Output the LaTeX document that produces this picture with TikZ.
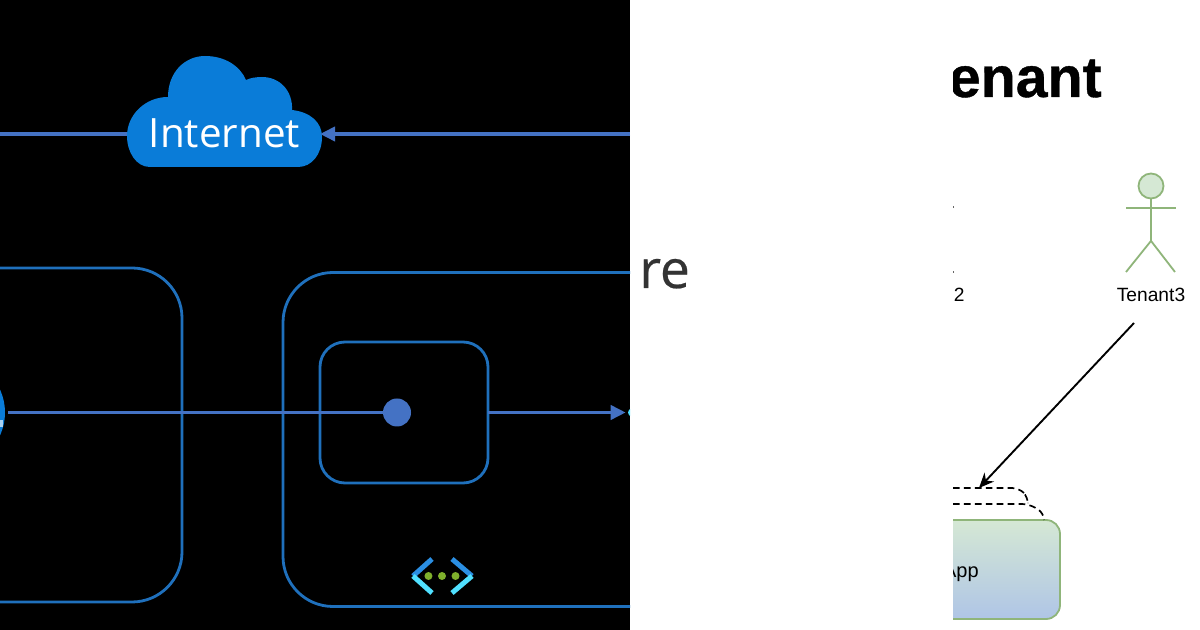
\documentclass[tikz,border=0pt]{standalone}
\usepackage{fontspec}
\usepackage{tikz}
\usetikzlibrary{positioning,arrows.meta}
\setmainfont{Liberation Sans}
\newfontfamily\slidefont[FakeBold=0.4]{Open Sans}
\newfontfamily\cloudfont{Open Sans}
\newfontfamily\titlefont[FakeBold=0.7]{Liberation Sans Bold}
\pgfmathsetmacro{\pixlen}{0.75}
\definecolor{cloudblue}{HTML}{0A7CD8}
\definecolor{wireblue}{HTML}{4472C4}
\definecolor{boxblue}{HTML}{1F70BC}
\definecolor{iconblue}{HTML}{2B8FE3}
\definecolor{iconcyan}{HTML}{50E0FF}
\definecolor{icongreen}{HTML}{7FB02C}
\definecolor{actorgreen}{HTML}{8FB57A}
\definecolor{actorfill}{HTML}{D5E8D4}
\definecolor{appblue}{HTML}{AFC5E6}
\tikzset{
  wire/.style={draw=wireblue, line width=3.6*\pixlen},
  wirearrow/.style={wire, -{Triangle[length=15*\pixlen pt, width=14*\pixlen pt]}},
  panelbox/.style={draw=boxblue, line width=2.8*\pixlen, rounded corners=50*\pixlen,
    minimum width=500*\pixlen pt, minimum height=334*\pixlen pt, outer sep=0},
  subnetbox/.style={draw=boxblue, line width=2.8*\pixlen, rounded corners=25*\pixlen,
    minimum width=168*\pixlen pt, minimum height=141*\pixlen pt, outer sep=0},
  chevup/.style={draw=iconblue, line width=5*\pixlen},
  chevdown/.style={draw=iconcyan, line width=5*\pixlen},
  icondot/.style={circle, fill=icongreen, minimum size=8*\pixlen pt, inner sep=0},
  actorline/.style={draw=actorgreen, line width=1.8*\pixlen},
  carddash/.style={dash pattern=on 5pt off 3.2pt, line width=1.7*\pixlen, rounded corners=7*\pixlen},
}
\begin{document}
\begin{tikzpicture}[x=0.75pt, y=-0.75pt]
\useasboundingbox (0,0) rectangle (1200,630);
\fill[white] (0,0) rectangle (1200,630);
% dark slide on the left
\begin{scope}
    \clip (0,0) rectangle (630,630);
    \fill[black] (0,0) rectangle (630,630);
    % cloud
    \fill[cloudblue] (150,167) .. controls (136,167) and (127,152) .. (127,136)
        .. controls (127,115) and (145,97) .. (168,97)
        .. controls (168,72) and (185,56) .. (205,56)
        .. controls (225,56) and (240,66) .. (246,80)
        .. controls (250,78) and (256,77) .. (262,77)
        .. controls (280,77) and (293,91) .. (292,110)
        .. controls (310,112) and (322,122) .. (322,137)
        .. controls (322,154) and (312,167) .. (298,167) -- cycle;
    \node[text=white, font=\cloudfont\fontsize{30.3}{30}\selectfont, inner sep=0] (inet_label) at (224.5,133) {Internet};
    % define vertices
    \coordinate (inet_west) at (127,134);
    \coordinate (inet_east) at (320,134);
    \coordinate (wire_left) at (0,134);
    \coordinate (wire_right) at (630,134);
    \draw[wire] (wire_left) -- (inet_west);
    \draw[wirearrow] (wire_right) -- (inet_east);
    % boxes
    \node[panelbox, anchor=east] (left_panel) at (182,435) {};
    \node[panelbox, anchor=west] (right_panel) at (283,439.5) {};
    \node[subnetbox] (subnet_box) at (404,412.5) {};
    % endpoints
    \node[circle, fill=cloudblue, minimum size=110*\pixlen pt, inner sep=0] (left_ep) at (-50,412.5) {};
    \fill[white!65!cloudblue] (-4,420) rectangle (3,427);
    \coordinate[right=3*\pixlen pt of left_ep.east] (wire_start);
    \node[circle, fill=wireblue, minimum size=28*\pixlen pt, inner sep=0] (subnet_dot) at (397,412.5) {};
    \node[circle, fill=iconcyan, minimum size=8*\pixlen pt, inner sep=0] (right_ep) at (632,412.5) {};
    \draw[wire] (wire_start) -- (subnet_dot);
    \draw[wirearrow, shorten >=2*\pixlen pt] (subnet_box.east) -- (right_ep.west);
    % network icon
    \node[icondot] (net_dot_mid) at (442,576) {};
    \node[icondot, left=5*\pixlen pt of net_dot_mid] (net_dot_l) {};
    \node[icondot, right=5*\pixlen pt of net_dot_mid] (net_dot_r) {};
    \draw[chevup] (432,559) -- (413,576);
    \draw[chevdown] (413,576) -- (432,593);
    \draw[chevup] (452,559) -- (472,576);
    \draw[chevdown] (472,576) -- (452,593);
\end{scope}
% slide text on the white side
\node[anchor=base west, inner sep=0, text=black!80, font=\slidefont\fontsize{40}{40}\selectfont] (slide_word) at (639,288) {re};
% cut-off drawing on the right
\begin{scope}
    \clip (953,0) rectangle (1200,630);
    \node[anchor=base east, inner sep=0, font=\titlefont\fontsize{43}{43}\selectfont] (title_word) at (1102,97) {enant};
    % tenant 2 leftovers
    \coordinate (arm_two) at (954,207);
    \coordinate (leg_two) at (954,272);
    \draw[black!60, line width=1.2*\pixlen] (arm_two) -- ++(-3,0);
    \draw[black!60, line width=1.2*\pixlen] (leg_two) -- ++(-3,0);
    \node[anchor=base west, inner sep=0, font=\fontsize{14.4}{14.4}\selectfont] (two_label) at (953.5,302) {2};
    % tenant 3
    \node[circle, actorline, fill=actorfill, minimum size=25*\pixlen pt, inner sep=0] (tenant_head) at (1151,186) {};
    \coordinate[below=41.5*\pixlen pt of tenant_head.south] (tenant_hip);
    \coordinate[below=8.5*\pixlen pt of tenant_head.south] (tenant_neck);
    \coordinate[left=25*\pixlen pt of tenant_neck] (tenant_arm_l);
    \coordinate[right=25*\pixlen pt of tenant_neck] (tenant_arm_r);
    \coordinate (tenant_foot_l) at (1126,272);
    \coordinate (tenant_foot_r) at (1175,272);
    \draw[actorline] (tenant_head.south) -- (tenant_hip);
    \draw[actorline] (tenant_arm_l) -- (tenant_arm_r);
    \draw[actorline] (tenant_foot_l) -- (tenant_hip) -- (tenant_foot_r);
    \node[inner sep=0, font=\fontsize{14.4}{14.4}\selectfont, anchor=base] (tenant_label) at (1151,302) {Tenant3};
    % app card and the two behind it
    \node[draw=actorgreen, line width=1.8*\pixlen, rounded corners=14*\pixlen, top color=actorfill, bottom color=appblue,
        minimum width=300*\pixlen pt, minimum height=99*\pixlen pt, anchor=east, outer sep=0] (app_box) at (1060,569.5) {};
    \node[anchor=base east, inner sep=0, font=\fontsize{15}{15}\selectfont] (app_label) at (979,578) {App};
    \coordinate (card_mid) at (953,504);
    \coordinate (card_back) at (953,488);
    \draw[carddash] (card_mid) -- (1029,504) -- (1044,513) -- (1044,520);
    \draw[carddash] (card_back) -- (1019,488) -- (1028,497) -- (1028,503);
    % tenant request
    \coordinate (req_from) at (1134,323);
    \coordinate (req_to) at (979,488);
    \draw[-{Stealth[length=15*\pixlen pt, width=13*\pixlen pt]}, line width=1.9*\pixlen] (req_from) -- (req_to);
\end{scope}
\end{tikzpicture}
\end{document}
